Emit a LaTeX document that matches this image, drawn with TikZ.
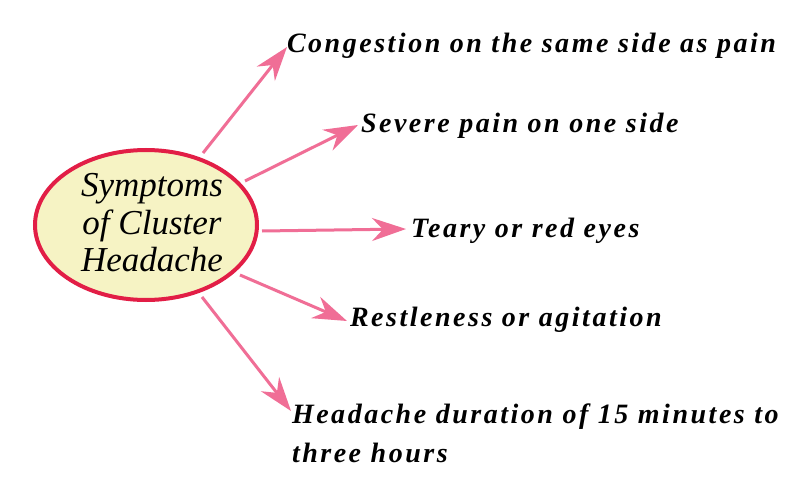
\documentclass[tikz,border=0pt]{standalone}
\usepackage{fontspec}
\setmainfont{Liberation Serif}
\newfontfamily\labfont[LetterSpace=9]{Liberation Serif}
\usetikzlibrary{arrows.meta,shapes.geometric,calc}
\definecolor{rim}{RGB}{226,30,70}
\definecolor{cream}{RGB}{246,243,196}
\definecolor{pinkarr}{RGB}{240,110,150}
\begin{document}
\begin{tikzpicture}[x=1pt,y=-1pt,
  hub/.style={ellipse, draw=rim, line width=4pt, fill=cream, minimum width=222pt, minimum height=150pt, inner sep=0pt},
  hubtext/.style={align=center, inner sep=0pt, font=\fontsize{35}{37.5}\selectfont\itshape},
  lab/.style={anchor=base west, inner sep=0pt, outer sep=0pt, font=\fontsize{28}{39}\labfont\bfseries\itshape, align=left},
  arr/.style={draw=pinkarr, line width=3pt, -{Stealth[length=34pt,width=23pt,inset=11pt]}, shorten >=0pt}]
\useasboundingbox (0,0) rectangle (800,492);
\fill[white] (0,0) rectangle (800,492);
\node[hub] (hub) at (146,225) {};
\node[hubtext] (ht) at (152,223) {Symptoms\\of Cluster\\Headache};
\node[lab] (t1) at (287,53) {Congestion on the same side as pain};
\node[lab] (t2) at (361,132) {Severe pain on one side};
\node[lab] (t3) at (411,237) {Teary or red eyes};
\node[lab] (t4) at (350,326) {Restleness or agitation};
\node[lab] (t5) at (292,462) {Headache duration of 15 minutes to\\three hours};
\coordinate (s1) at (203,153);
\coordinate (s2) at (245,181);
\coordinate (s3) at (262,231);
\coordinate (s4) at (240,275);
\coordinate (s5) at (202,297);
\coordinate (e1) at (287,47);
\coordinate (e2) at (358,125);
\coordinate (e3) at (406,229);
\coordinate (e4) at (347,321);
\coordinate (e5) at (291,411);
\draw[arr] (s1) -- (e1);
\draw[arr] (s2) -- (e2);
\draw[arr] (s3) -- (e3);
\draw[arr] (s4) -- (e4);
\draw[arr] (s5) -- (e5);
\end{tikzpicture}
\end{document}
